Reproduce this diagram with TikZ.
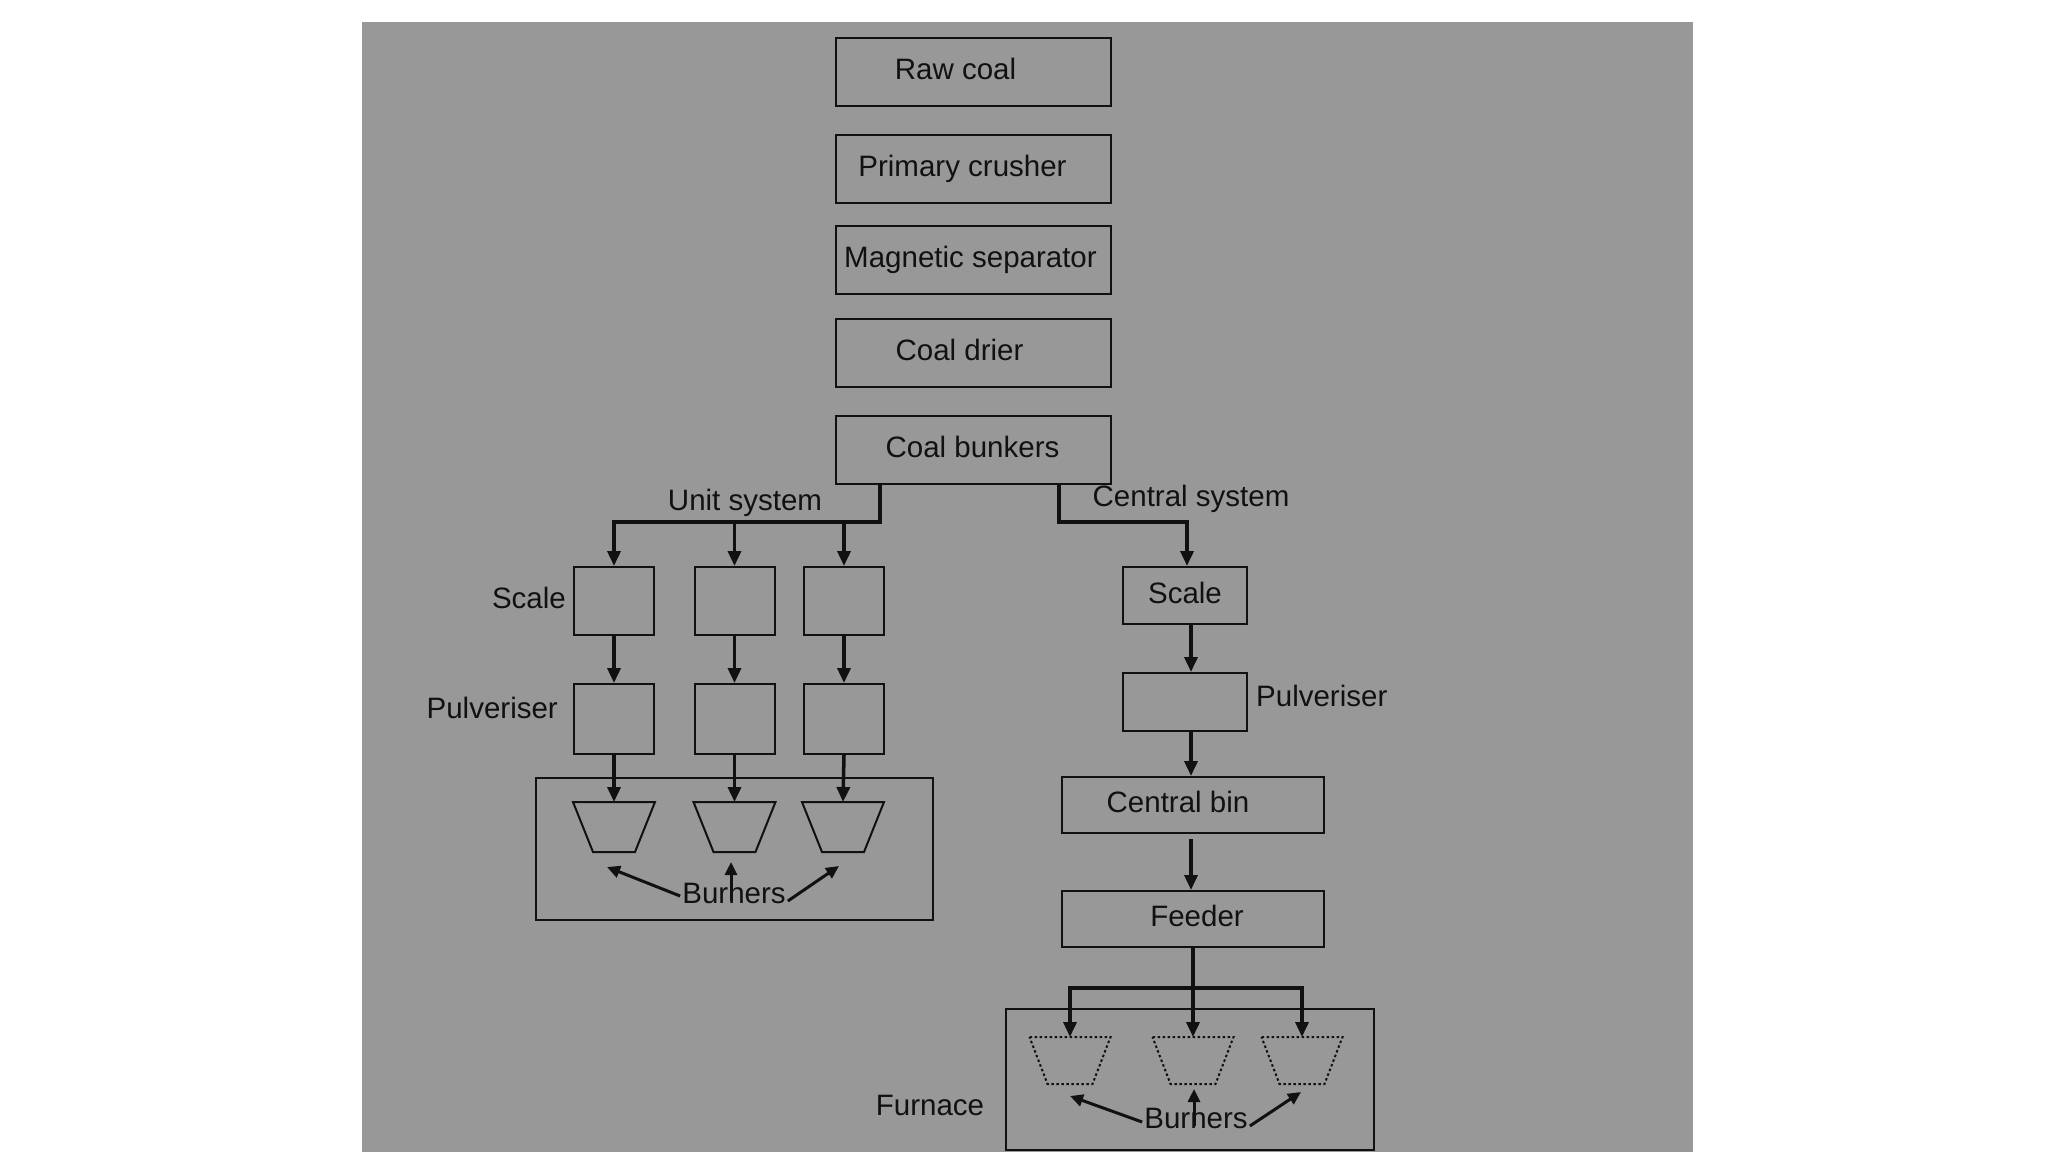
\documentclass[tikz,border=0pt]{standalone}
\usepackage{fontspec}
\setmainfont{Liberation Sans}
\usetikzlibrary{arrows.meta,calc}
\definecolor{bggray}{HTML}{999899}
\definecolor{ink}{HTML}{111111}
\begin{document}
\begin{tikzpicture}[x=1pt,y=-1pt,
  every node/.style={font=\fontsize{29.5pt}{35pt}\selectfont, text=ink, inner sep=2pt},
  txt/.style={text height=0.7em, text depth=0.2em, yshift=-5pt},
  box/.style={draw=ink, line width=2pt, inner sep=0pt, text height=0.6em, text depth=0.3em},
  conn/.style={draw=ink, line width=3.5pt, -{Triangle[length=15pt,width=13pt]}},
  barr/.style={draw=ink, line width=3pt, -{Triangle[length=13pt,width=12pt]}},
  burner/.style={draw=ink, line width=2pt},
  dburner/.style={draw=ink, line width=2pt, dash pattern=on 2.5pt off 2.5pt}]
\useasboundingbox (0,0) rectangle (2048,1152);
\fill[white] (0,0) rectangle (2048,1152);
\fill[bggray] (362,22) rectangle (1693,1152);

% main column
\node[box,minimum width=275pt,minimum height=68pt,label={[txt,xshift=-18pt]center:Raw coal}] (raw) at (973.5,72) {};
\node[box,minimum width=275pt,minimum height=68pt,label={[txt,xshift=-11pt]center:Primary crusher}] (crush) at (973.5,169) {};
\node[box,minimum width=275pt,minimum height=68pt,label={[txt,xshift=-3pt]center:Magnetic separator}] (mag) at (973.5,260) {};
\node[box,minimum width=275pt,minimum height=68pt,label={[txt,xshift=-14pt]center:Coal drier}] (drier) at (973.5,352.5) {};
\node[box,minimum width=275pt,minimum height=68pt,label={[txt,xshift=-1pt]center:Coal bunkers}] (bunk) at (973.5,449.5) {};

% unit system
\node[txt] (unitlab) at (745,503) {Unit system};
\node[box,minimum width=80pt,minimum height=68pt] (us1) at (614,601) {};
\node[box,minimum width=80pt,minimum height=68pt] (us2) at (734.5,601) {};
\node[box,minimum width=80pt,minimum height=68pt] (us3) at (844,601) {};
\node[txt,anchor=east] (uscalelab) at ([xshift=-5pt]us1.west) {Scale};
\node[box,minimum width=80pt,minimum height=70pt] (up1) at (614,719) {};
\node[box,minimum width=80pt,minimum height=70pt] (up2) at (734.5,719) {};
\node[box,minimum width=80pt,minimum height=70pt] (up3) at (844,719) {};
\node[txt,anchor=east] (upulvlab) at (560,711) {Pulveriser};
\node[box,minimum width=397pt,minimum height=142pt] (ubox) at (734.5,849) {};
\coordinate (ub1) at (614,802);
\coordinate (ub2) at (734.5,802);
\coordinate (ub3) at (843,802);
\foreach \b in {ub1,ub2,ub3}
  \draw[burner] ([xshift=-41pt]\b) -- ([xshift=41pt]\b) -- ([xshift=21pt,yshift=-50pt]\b) -- ([xshift=-21pt,yshift=-50pt]\b) -- cycle;
\node[txt] (ublab) at (734,896) {Burners};
\coordinate (ua1) at (607,867);
\coordinate (ua2) at (731,862);
\coordinate (ua3) at (839,866);
\draw[barr] ([yshift=5pt]ublab.west) -- (ua1);
\draw[barr] (ua2 |- ublab.center) -- (ua2);
\draw[barr] (ublab.east) -- (ua3);

\coordinate (uj) at (880,522);
\draw[conn] ([xshift=-93.5pt]bunk.south) -- (uj) -| (us1.north);
\draw[conn] (us2.north |- uj) -- (us2.north);
\draw[conn] (us3.north |- uj) -- (us3.north);
\draw[conn] (us1.south) -- (up1.north);
\draw[conn] (us2.south) -- (up2.north);
\draw[conn] (us3.south) -- (up3.north);
\draw[conn] (up1.south) -- (ub1);
\draw[conn] (up2.south) -- (ub2);
\draw[conn] (up3.south) -- (ub3);

% central system
\node[txt] (centlab) at (1191,499) {Central system};
\node[box,minimum width=124pt,minimum height=57pt,label={[txt]center:Scale}] (cscale) at (1185,595.5) {};
\node[box,minimum width=124pt,minimum height=58pt] (cpulv) at (1185,702) {};
\node[txt,anchor=west] (cpulvlab) at (1254,699) {Pulveriser};
\node[box,minimum width=262pt,minimum height=56pt,label={[txt,xshift=-15pt]center:Central bin}] (cbin) at (1193,805) {};
\node[box,minimum width=262pt,minimum height=56pt,label={[txt,xshift=4pt]center:Feeder}] (feeder) at (1193,919) {};
\coordinate (cj) at (1187,522);
\coordinate (ccol) at (1191,0);
\draw[conn] ([xshift=85.5pt]bunk.south) |- (cj) -- (cscale.north -| cj);
\draw[conn] (cscale.south -| ccol) -- (cpulv.north -| ccol);
\draw[conn] (cpulv.south -| ccol) -- (cbin.north -| ccol);
\draw[conn] ([yshift=-5pt]cbin.south -| ccol) -- (feeder.north -| ccol);

\node[box,minimum width=368pt,minimum height=141pt] (fbox) at (1190,1079.5) {};
\node[txt] (furnlab) at (930,1108) {Furnace};
\coordinate (fb1) at (1070,1037);
\coordinate (fb2) at (1193,1037);
\coordinate (fb3) at (1302,1037);
\foreach \b in {fb1,fb2,fb3}
  \draw[dburner] ([xshift=-40.5pt]\b) -- ([xshift=40.5pt]\b) -- ([xshift=22.5pt,yshift=-47pt]\b) -- ([xshift=-22.5pt,yshift=-47pt]\b) -- cycle;
\coordinate (fj) at (1193,988);
\draw[conn] (feeder.south) -- (fb2);
\draw[conn] (fj) -| (fb1);
\draw[conn] (fj) -| (fb3);
\node[txt] (fblab) at (1196,1121) {Burners};
\coordinate (fa1) at (1070,1096);
\coordinate (fa2) at (1194,1089);
\coordinate (fa3) at (1301,1092);
\draw[barr] ([yshift=4pt]fblab.west) -- (fa1);
\draw[barr] (fa2 |- fblab.center) -- (fa2);
\draw[barr] (fblab.east) -- (fa3);
\end{tikzpicture}
\end{document}
